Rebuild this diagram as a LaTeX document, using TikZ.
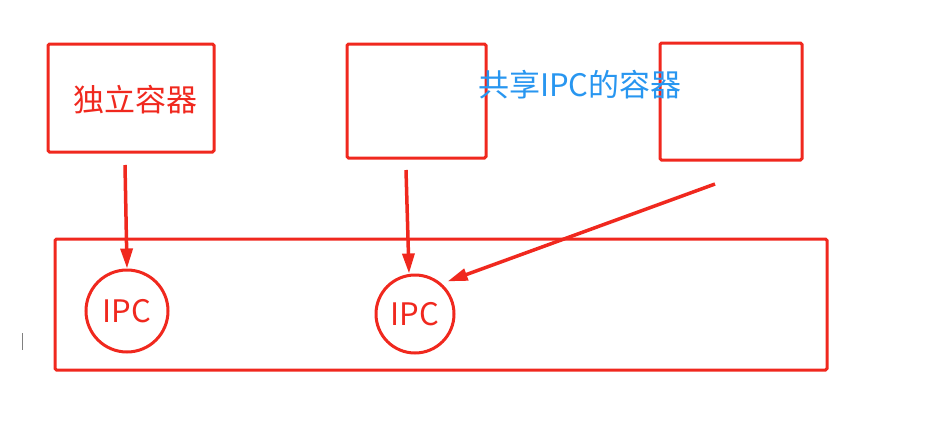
\documentclass[tikz,border=0pt]{standalone}
\usepackage{fontspec}
\setmainfont{Noto Sans CJK SC}
\usetikzlibrary{arrows.meta}
\definecolor{myred}{RGB}{240,40,30}
\definecolor{myblue}{RGB}{40,150,240}
\begin{document}
\begin{tikzpicture}[x=1pt,y=-1pt,
  box/.style={draw=myred,line width=3pt,rounded corners=1.5pt},
  ipc/.style={circle,draw=myred,line width=3pt,text=myred,font=\fontsize{31}{34}\selectfont,inner sep=0pt},
  arr/.style={draw=myred,line width=3.5pt,-{Triangle[length=20pt,width=12pt]}}]
\useasboundingbox (0,0) rectangle (949,423);
\draw[box] (48,44) rectangle (214,152);
\draw[box] (347,44) rectangle (486,158);
\draw[box] (660,43) rectangle (802,160);
\draw[box] (55,239) rectangle (827,370);
\node[ipc,minimum size=82pt] (i1) at (127,311) {IPC};
\node[ipc,minimum size=78pt] (i2) at (415,314) {IPC};
\node[text=myred,font=\fontsize{31}{34}\selectfont] (t1) at (135,100) {独立容器};
\node[text=myblue,font=\fontsize{31}{34}\selectfont] (t2) at (580,85) {共享IPC的容器};
\coordinate (a1) at (125,165);
\coordinate (a2) at (406,170);
\coordinate (a3) at (715,184);
\draw[arr] (a1) -- (i1.north);
\draw[arr] (a2) -- ([xshift=-6pt]i2.north);
\draw[arr] (a3) -- ([xshift=4pt,yshift=4pt]i2.north east);
\draw[gray,line width=1pt] (22,333) -- (22,350);
\end{tikzpicture}
\end{document}
